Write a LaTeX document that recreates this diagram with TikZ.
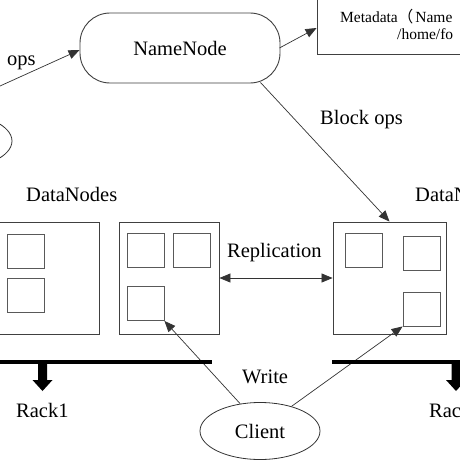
\documentclass[tikz,border=0pt]{standalone}
\usepackage{fontspec}
\setmainfont{Liberation Serif}
\newfontfamily\cjkfont{Noto Sans CJK SC}
\usetikzlibrary{arrows.meta,shapes.geometric,calc}
\begin{document}
\begin{tikzpicture}[x=1pt,y=-1pt,
  lbl/.style={inner sep=0pt,anchor=base west,font=\fontsize{20.5}{24}\selectfont},
  small/.style={inner sep=0pt,anchor=base west,font=\fontsize{15.5}{18}\selectfont},
  frame/.style={draw=black!75,line width=0.9pt,inner sep=0pt},
  blk/.style={draw=black!65,line width=0.9pt,inner sep=0pt,minimum width=37pt,minimum height=34pt},
  conn/.style={draw=black!80,line width=0.7pt,-{Triangle[length=11pt,width=9pt]}},
  rackline/.style={line width=4pt,black},
  rackarrow/.style={fill=black,draw=none}]
\useasboundingbox (0,0) rectangle (460,460);
\clip (0,0) rectangle (460,460);
\fill[white] (0,0) rectangle (460,460);

% NameNode and metadata
\node[frame,rounded corners=30pt,minimum width=200pt,minimum height=70pt,
      font=\fontsize{20.5}{24}\selectfont] (namenode) at (180,48) {NameNode};
\node[frame,minimum width=163pt,minimum height=64pt] (meta) at (398.5,22) {};
\node[small] (metat1) at (340,23) {Metadata{\cjkfont （}\hspace{2pt}Name};
\node[small] (metat2) at (397,40) {/home/fo};

% left client (partial)
\node[draw=black!80,line width=0.8pt,ellipse,minimum width=120pt,minimum height=56pt] (client0) at (-48,141) {};

% DataNodes
\node[frame,minimum width=112pt,minimum height=112pt] (dn1) at (43,278) {};
\node[frame,minimum width=100pt,minimum height=112pt] (dn2) at (169,278) {};
\node[frame,minimum width=113pt,minimum height=112pt] (dn3) at (389.5,278) {};

\node[blk] (b11) at (25.5,251) {};
\node[blk] (b12) at (25.5,295) {};
\node[blk] (b21) at (146,250.5) {};
\node[blk] (b22) at (191.5,250.5) {};
\node[blk] (b23) at (145.5,303.5) {};
\node[blk] (b31) at (363.5,250.5) {};
\node[blk] (b32) at (421.5,253.5) {};
\node[blk] (b33) at (421.5,309) {};

% Client
\node[draw=black!80,line width=0.8pt,ellipse,minimum width=120pt,minimum height=57pt,
      font=\fontsize{20.5}{24}\selectfont] (client) at (260,431) {Client};

% labels
\node[lbl] (opsl) at (7,66) {ops};
\node[lbl] (blockl) at (320,124) {Block ops};
\node[lbl] (dnl) at (26,201) {DataNodes};
\node[lbl] (dnr) at (415,201) {DataNodes};
\node[lbl] (repl) at (227,257) {Replication};
\node[lbl] (writel) at (242,383) {Write};
\node[lbl] (rack1) at (16,417) {Rack1};
\node[lbl] (rack2) at (429,417) {Rack2};

% connectors
\coordinate (opsstart) at (0,86);
\draw[conn] (opsstart) -- ($(namenode.west)+(0,2)$);
\draw[conn] ($(namenode.east)+(-1,0)$) -- ($(meta.west)+(0,6)$);
\draw[conn] ($(namenode.south east)+(-20,-1)$) -- (dn3.north);
\draw[draw=black!80,line width=0.7pt,{Triangle[length=11pt,width=9pt]}-{Triangle[length=11pt,width=9pt]}] (dn2.east) -- (dn3.west);
\draw[conn] (client.126) -- (b23.south east);
\draw[conn] (client.38) -- (b33.south west);

% racks
\coordinate (r1a) at (0,362);
\coordinate (r1b) at (212,362);
\coordinate (r2a) at (332,362);
\coordinate (r2b) at (470,362);
\draw[rackline] (r1a) -- (r1b);
\draw[rackline] (r2a) -- (r2b);
\fill[rackarrow] (38,362) -- (47,362) -- (47,380) -- (52.5,380) -- (42.5,391) -- (32.5,380) -- (38,380) -- cycle;
\fill[rackarrow] (451.5,362) -- (460.5,362) -- (460.5,380) -- (466,380) -- (456,391) -- (446,380) -- (451.5,380) -- cycle;
\end{tikzpicture}
\end{document}
